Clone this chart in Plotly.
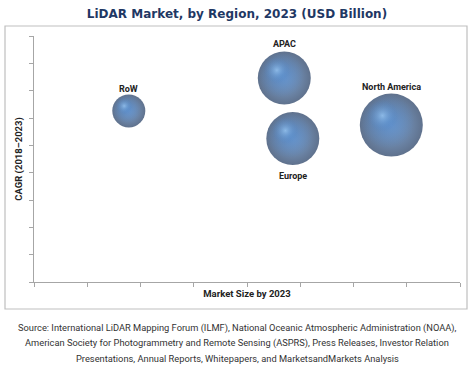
import plotly.graph_objects as go

# ---- data ----
regions = ["RoW", "APAC", "Europe", "North America"]
market_size = [1.78, 4.70, 4.86, 6.71]      # x: Market Size by 2023
cagr = [6.26, 7.46, 5.25, 5.74]             # y: CAGR (2018–2023)
bubble_size = [33, 53, 53, 63]              # bubble diameters
label_side = [1, 1, -1, 1]                  # label above (+1) or below (-1)
label_gap = [5, 8, 11, 7]                   # px between bubble edge and label centre

X_MAX, Y_MAX = 8, 9
W, H = 474, 371
M_L, M_R, M_T, M_B = 34, 14, 36, 89
plot_w = W - M_L - M_R
plot_h = H - M_T - M_B

fig = go.Figure()


def shifted(frac_x, frac_y):
    """Offset of each bubble centre by a fraction of its radius (up-left)."""
    xs = [x - frac_x * (s / 2) * X_MAX / plot_w for x, s in zip(market_size, bubble_size)]
    ys = [y + frac_y * (s / 2) * Y_MAX / plot_h for y, s in zip(cagr, bubble_size)]
    return xs, ys


# base spheres (dark rim)
fig.add_trace(go.Scatter(
    x=market_size, y=cagr, mode="markers",
    text=regions,
    marker=dict(size=bubble_size, sizemode="diameter",
                color="#1b355c",
                gradient=dict(type="radial", color="#4a80c2"),
                line=dict(width=0)),
    hoverinfo="skip", showlegend=False,
))

# body fill, slightly up-left so the lower-right stays darker
bx, by = shifted(0.12, 0.12)
fig.add_trace(go.Scatter(
    x=bx, y=by, mode="markers",
    marker=dict(size=[s * 0.86 for s in bubble_size], sizemode="diameter",
                color="rgba(74,128,194,0)",
                gradient=dict(type="radial", color="rgba(74,128,194,1)"),
                line=dict(width=0)),
    hoverinfo="skip", showlegend=False,
))

# specular highlight
hx, hy = shifted(0.28, 0.3)
fig.add_trace(go.Scatter(
    x=hx, y=hy, mode="markers",
    marker=dict(size=[s * 0.5 for s in bubble_size], sizemode="diameter",
                color="rgba(74,128,194,0)",
                gradient=dict(type="radial", color="rgba(160,206,248,1)"),
                line=dict(width=0)),
    hoverinfo="skip", showlegend=False,
))

# region labels
for name, x, y, s, side, gap in zip(regions, market_size, cagr, bubble_size,
                                    label_side, label_gap):
    fig.add_annotation(text=f"<b>{name}</b>", x=x, y=y, xref="x", yref="y",
                       yshift=side * (s / 2 + gap), showarrow=False,
                       xanchor="center", yanchor="middle",
                       font=dict(family="Roboto", size=9, color="#222222"))

axis_common = dict(showgrid=False, zeroline=False, showline=True,
                   linecolor="#a6a6a6", linewidth=1, ticks="outside",
                   ticklen=4, tickcolor="#a6a6a6", showticklabels=False,
                   dtick=1, tick0=0, automargin=False)

fig.update_layout(
    width=W, height=H,
    margin=dict(l=M_L, r=M_R, t=M_T, b=M_B),
    paper_bgcolor="white", plot_bgcolor="white",
    title=dict(text="<b>LiDAR Market, by Region, 2023 (USD Billion)</b>",
               x=0.5, xref="container", y=1 - 14 / H, yref="container",
               xanchor="center", yanchor="middle",
               font=dict(family="DejaVu Sans", size=12, color="#1f3864")),
    xaxis=dict(range=[0, X_MAX], **axis_common,
               title=dict(text="<b>Market Size by 2023</b>", standoff=4,
                          font=dict(family="Roboto", size=9.5, color="#222222"))),
    yaxis=dict(range=[0, Y_MAX], **axis_common,
               title=dict(text="<b>CAGR (2018–2023)</b>", standoff=4,
                          font=dict(family="Roboto", size=9.5, color="#222222"))),
    showlegend=False,
)

# chart frame
fig.add_shape(type="rect", xref="paper", yref="paper",
              x0=(5 - M_L) / plot_w, x1=(467 - M_L) / plot_w,
              y0=(M_T + plot_h - 309) / plot_h, y1=(M_T + plot_h - 26) / plot_h,
              line=dict(color="#bfbfbf", width=1.2), layer="below")

source_lines = [
    "Source: International LiDAR Mapping Forum (ILMF), National Oceanic Atmospheric Administration (NOAA),",
    "American Society for Photogrammetry and Remote Sensing (ASPRS), Press Releases, Investor Relation",
    "Presentations, Annual Reports, Whitepapers, and MarketsandMarkets Analysis",
]
for i, line in enumerate(source_lines):
    ypx = 328 + 15 * i
    fig.add_annotation(text=line, xref="paper", yref="paper",
                       x=(237 - M_L) / plot_w, y=(M_T + plot_h - ypx) / plot_h,
                       xanchor="center", yanchor="middle", showarrow=False,
                       font=dict(family="Roboto", size=9.3, color="#333333"))

fig.write_html("out.html", config={"displayModeBar": False},
               post_script="document.body.style.margin='0';document.body.style.padding='0';")
